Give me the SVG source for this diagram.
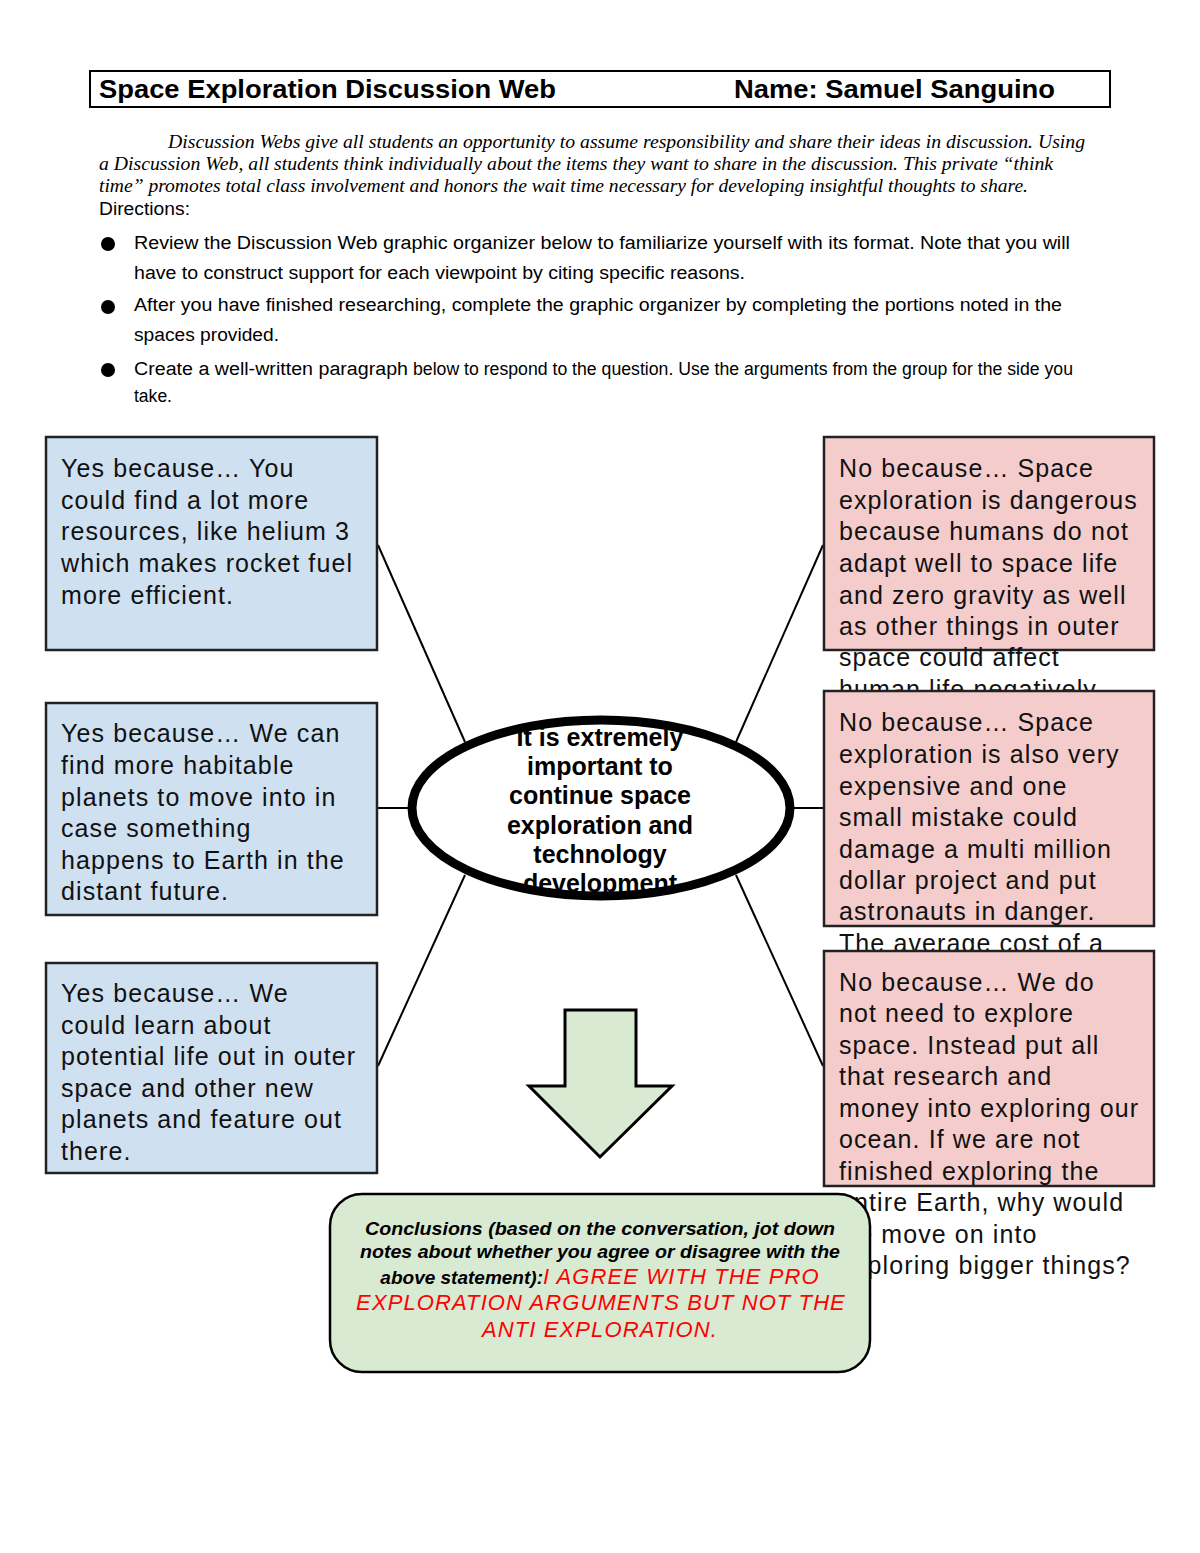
<svg xmlns="http://www.w3.org/2000/svg" width="1200" height="1553" viewBox="0 0 1200 1553">
<style>
.sans{font-family:"Liberation Sans",Arial,sans-serif;fill:#000}
.intro{font-family:"Liberation Serif","Times New Roman",serif;font-style:italic;font-size:18px;fill:#000}
.dir{font-family:"Liberation Sans",Arial,sans-serif;font-size:18px;fill:#000}
.box{font-family:"Liberation Sans",Arial,sans-serif;font-size:25px;letter-spacing:1.1px;fill:#111}
.blue{fill:#cfe0f1;stroke:#222;stroke-width:2.5}
.red{fill:#f4cccc;stroke:#222;stroke-width:2.5}
.conn{stroke:#000;stroke-width:2;fill:none}
.ctext{font-family:"Liberation Sans",Arial,sans-serif;font-size:25px;font-weight:bold;fill:#000;text-anchor:middle}
.concl{font-family:"Liberation Sans",Arial,sans-serif;font-size:19px;font-weight:bold;font-style:italic;fill:#000;text-anchor:middle}
.redt{font-family:"Liberation Sans",Arial,sans-serif;font-size:22px;font-style:italic;letter-spacing:1.1px;fill:#ff0000}
</style>
<rect width="1200" height="1553" fill="#fff"/>
<g id="header">
<rect x="90" y="71" width="1020" height="36" fill="#fff" stroke="#000" stroke-width="2"/>
<text class="sans" x="99" y="98" font-size="25" font-weight="bold" textLength="457" lengthAdjust="spacingAndGlyphs">Space Exploration Discussion Web</text>
<text class="sans" x="734" y="98" font-size="25" font-weight="bold" textLength="321" lengthAdjust="spacingAndGlyphs">Name: Samuel Sanguino</text>
</g>
<g id="intro">
<text class="intro" x="168" y="148" textLength="917" lengthAdjust="spacingAndGlyphs">Discussion Webs give all students an opportunity to assume responsibility and share their ideas in discussion.  Using</text>
<text class="intro" x="99" y="170" textLength="954" lengthAdjust="spacingAndGlyphs">a Discussion Web, all students think individually about the items they want to share in the discussion.  This private “think</text>
<text class="intro" x="99" y="192" textLength="929" lengthAdjust="spacingAndGlyphs">time” promotes total class involvement and honors the wait time necessary for developing insightful thoughts to share.</text>
<text class="dir" x="99" y="215" textLength="91" lengthAdjust="spacingAndGlyphs">Directions:</text>
<circle cx="108" cy="244" r="7" fill="#000"/>
<circle cx="108" cy="307" r="7" fill="#000"/>
<circle cx="108" cy="370" r="7" fill="#000"/>
<text class="dir" x="134" y="249" textLength="936" lengthAdjust="spacingAndGlyphs">Review the Discussion Web graphic organizer below to familiarize yourself with its format.  Note that you will</text>
<text class="dir" x="134" y="279" textLength="611" lengthAdjust="spacingAndGlyphs">have to construct support for each viewpoint by citing specific reasons.</text>
<text class="dir" x="134" y="311" textLength="928" lengthAdjust="spacingAndGlyphs">After you have finished researching, complete the graphic organizer by completing the portions noted in the</text>
<text class="dir" x="134" y="341" textLength="145" lengthAdjust="spacingAndGlyphs">spaces provided.</text>
<text class="dir" x="134" y="375" textLength="274" lengthAdjust="spacingAndGlyphs">Create a well-written paragraph</text>
<text class="dir" x="413" y="375" font-size="16" textLength="660" lengthAdjust="spacingAndGlyphs">below to respond to the question. Use the arguments from the group for the side you</text>
<text class="dir" x="134" y="402" font-size="16" textLength="38" lengthAdjust="spacingAndGlyphs">take.</text>
</g>
<g id="connectors">
<line class="conn" x1="378" y1="545" x2="465" y2="742"/>
<line class="conn" x1="378" y1="808" x2="410" y2="808"/>
<line class="conn" x1="378" y1="1066" x2="465" y2="875"/>
<line class="conn" x1="823" y1="545" x2="736" y2="742"/>
<line class="conn" x1="823" y1="808" x2="792" y2="808"/>
<line class="conn" x1="823" y1="1066" x2="736" y2="875"/>
</g>
<g id="yes1">
<rect class="blue" x="46" y="437" width="331" height="213"/>
<text class="box"><tspan x="61" y="477">Yes because… You</tspan><tspan x="61" y="509">could find a lot more</tspan><tspan x="61" y="540">resources, like helium 3</tspan><tspan x="61" y="572">which makes rocket fuel</tspan><tspan x="61" y="604">more efficient.</tspan></text>
</g>
<g id="yes2">
<rect class="blue" x="46" y="703" width="331" height="212"/>
<text class="box"><tspan x="61" y="742">Yes because… We can</tspan><tspan x="61" y="774">find more habitable</tspan><tspan x="61" y="806">planets to move into in</tspan><tspan x="61" y="837">case something</tspan><tspan x="61" y="869">happens to Earth in the</tspan><tspan x="61" y="900">distant future.</tspan></text>
</g>
<g id="yes3">
<rect class="blue" x="46" y="963" width="331" height="210"/>
<text class="box"><tspan x="61" y="1002">Yes because… We</tspan><tspan x="61" y="1034">could learn about</tspan><tspan x="61" y="1065">potential life out in outer</tspan><tspan x="61" y="1097">space and other new</tspan><tspan x="61" y="1128">planets and feature out</tspan><tspan x="61" y="1160">there.</tspan></text>
</g>
<g id="no1">
<rect class="red" x="824" y="437" width="330" height="213"/>
<text class="box"><tspan x="839" y="477">No because… Space</tspan><tspan x="839" y="509">exploration is dangerous</tspan><tspan x="839" y="540">because humans do not</tspan><tspan x="839" y="572">adapt well to space life</tspan><tspan x="839" y="604">and zero gravity as well</tspan><tspan x="839" y="635">as other things in outer</tspan><tspan x="839" y="666">space could affect</tspan><tspan x="839" y="698">human life negatively</tspan></text>
</g>
<g id="no2">
<rect class="red" x="824" y="691" width="330" height="235"/>
<text class="box"><tspan x="839" y="731">No because… Space</tspan><tspan x="839" y="763">exploration is also very</tspan><tspan x="839" y="795">expensive and one</tspan><tspan x="839" y="826">small mistake could</tspan><tspan x="839" y="858">damage a multi million</tspan><tspan x="839" y="889">dollar project and put</tspan><tspan x="839" y="920">astronauts in danger.</tspan><tspan x="839" y="952">The average cost of a</tspan></text>
</g>
<g id="no3">
<rect class="red" x="824" y="951" width="330" height="235"/>
<text class="box"><tspan x="839" y="991">No because… We do</tspan><tspan x="839" y="1022">not need to explore</tspan><tspan x="839" y="1054">space. Instead put all</tspan><tspan x="839" y="1085">that research and</tspan><tspan x="839" y="1117">money into exploring our</tspan><tspan x="839" y="1148">ocean. If we are not</tspan><tspan x="839" y="1180">finished exploring the</tspan><tspan x="839" y="1211">entire Earth, why would</tspan><tspan x="839" y="1243">we move on into</tspan><tspan x="839" y="1274">exploring bigger things?</tspan></text>
</g>
<g id="center">
<ellipse cx="601" cy="808" rx="189" ry="88" fill="#fff"/>
<text class="ctext"><tspan x="600" y="746">It is extremely</tspan><tspan x="600" y="775">important to</tspan><tspan x="600" y="804">continue space</tspan><tspan x="600" y="834">exploration and</tspan><tspan x="600" y="863">technology</tspan><tspan x="600" y="892">development</tspan></text>
<ellipse cx="601" cy="808" rx="189" ry="88" fill="none" stroke="#000" stroke-width="9"/>
</g>
<g id="arrow">
<polygon points="565,1010 636,1010 636,1086 672,1086 600,1157 529,1086 565,1086" fill="#d9ead3" stroke="#000" stroke-width="3" stroke-linejoin="miter"/>
</g>
<g id="conclusion">
<rect x="330" y="1194" width="540" height="178" rx="32" fill="#d9ead3" stroke="#000" stroke-width="2.5"/>
<text class="concl" x="600" y="1235" textLength="470" lengthAdjust="spacingAndGlyphs">Conclusions (based on the conversation, jot down</text>
<text class="concl" x="600" y="1258" textLength="480" lengthAdjust="spacingAndGlyphs">notes about whether you agree or disagree with the</text>
<text x="600" y="1284" text-anchor="middle"><tspan class="concl" font-size="19">above statement):</tspan><tspan class="redt">I AGREE WITH THE PRO</tspan></text>
<text class="redt" x="601" y="1310" text-anchor="middle">EXPLORATION ARGUMENTS BUT NOT THE</text>
<text class="redt" x="600" y="1337" text-anchor="middle">ANTI EXPLORATION.</text>
</g>
</svg>
